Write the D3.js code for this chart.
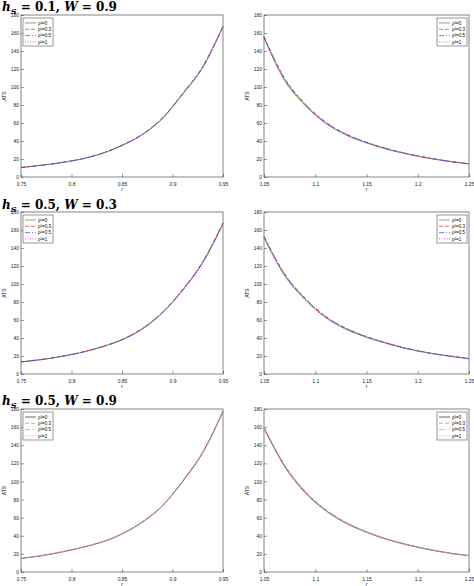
<!DOCTYPE html><html><head><meta charset="utf-8"><script src="https://cdn.jsdelivr.net/npm/d3@7"></script>
<style>body{margin:0;background:#fff}</style></head><body><svg id="c" width="474" height="586"></svg><script>
const xLeft=[0.75,0.77,0.79,0.81,0.83,0.85,0.87,0.89,0.91,0.93,0.95];
const xRight=[1.05,1.07,1.09,1.11,1.13,1.15,1.17,1.19,1.21,1.23,1.25];
const legendLabels=["ρ²=0","ρ²=0.3","ρ²=0.5","ρ²=1"];
const titles=["h_S = 0.1, W = 0.9","h_S = 0.5, W = 0.3","h_S = 0.5, W = 0.9"];
const yTicks=[0,20,40,60,80,100,120,140,160,180];
const r1L=[[10.5,13,16,20,26,35,47,65,92,122,167],[10.6,13.1,16.1,20.2,26.3,35.4,47.5,65.6,92.8,123,168],[10.5,13,16,20.1,26.2,35.2,47.3,65.3,92.4,122.5,167.5],[10.4,12.9,15.9,19.9,25.9,34.8,46.8,64.7,91.6,121.5,166]];
const r1R=[[155,108,80,60,47,38,31,25.5,21,17.5,14.5],[156,110,81.5,61.2,47.9,38.6,31.5,25.9,21.3,17.7,14.7],[155.5,109,80.8,60.6,47.5,38.3,31.2,25.7,21.2,17.6,14.6],[154,107,79.2,59.4,46.5,37.6,30.7,25.3,20.8,17.3,14.3]];
const r2L=[[13.5,16,19.5,24,30,38,50,68,93,124,167],[13.6,16.1,19.7,24.2,30.3,38.4,50.5,68.6,93.8,125,168],[13.5,16,19.6,24.1,30.2,38.2,50.3,68.3,93.4,124.5,167.5],[13.4,15.9,19.4,23.9,29.9,37.8,49.7,67.6,92.5,123.2,166]];
const r2R=[[152,110,83,63,50,41,34,28,23.5,20,17],[153,111.5,84.5,64.2,50.9,41.6,34.5,28.4,23.8,20.2,17.2],[152.5,110.8,83.8,63.6,50.5,41.3,34.2,28.2,23.6,20.1,17.1],[151,109,82.2,62.4,49.5,40.6,33.7,27.8,23.3,19.8,16.8]];
const r3L=[[15,18,22,27,33,42,55,73,100,132,177],[15.1,18.1,22.2,27.2,33.3,42.4,55.5,73.6,100.8,133,178],[15,18,22.1,27.1,33.2,42.2,55.3,73.3,100.4,132.5,177.5],[14.9,17.9,21.9,26.9,32.9,41.8,54.7,72.6,99.4,131.2,176]];
const r3R=[[159,117,88,68,54,44,36,30,25,21,18],[160,118.5,89.5,69.2,54.9,44.6,36.5,30.4,25.3,21.2,18.2],[159.5,117.8,88.8,68.6,54.5,44.3,36.2,30.2,25.1,21.1,18.1],[158,116,87.2,67.4,53.5,43.6,35.7,29.8,24.8,20.8,17.8]];
const colorsA=["#2ca02c","#e03030","#3050e0","#d030d0"];
const colorsB=["#222","#f08020","#80a0f0","#f080c0"];
const dashes=[null,"4,2","5,2,1,2","1,1.5"];
const rows=[{top:15,bottom:177,L:r1L,R:r1R,c:colorsA,ty:11},{top:212,bottom:374,L:r2L,R:r2R,c:colorsA,ty:209},{top:409,bottom:572,L:r3L,R:r3R,c:colorsB,ty:405}];
const svg=d3.select("#c");
rows.forEach((row,ri)=>{
 const t=svg.append("text").attr("x",2).attr("y",row.ty).attr("font-family","DejaVu Serif").attr("font-size",12).attr("font-style","italic").attr("font-weight","bold");
 t.append("tspan").text("h");t.append("tspan").attr("font-size",8).attr("dy",3).text("S");
 const parts=titles[ri].split(", ");
 t.append("tspan").attr("dy",-3).attr("font-style","normal").text(" = "+parts[0].split("= ")[1]+", ");
 t.append("tspan").text("W");t.append("tspan").attr("font-style","normal").text(" = "+parts[1].split("= ")[1]);
 [[xLeft,row.L,21,223,[0.75,0.8,0.85,0.9,0.95],true],[xRight,row.R,264,469,[1.05,1.1,1.15,1.2,1.25],false]].forEach(([xs,ser,x0,x1,xt,leftLeg])=>{
  const x=d3.scaleLinear().domain([xs[0],xs[xs.length-1]]).range([x0,x1]);
  const y=d3.scaleLinear().domain([0,180]).range([row.bottom,row.top]);
  const g=svg.append("g");
  g.append("rect").attr("x",x0).attr("y",row.top).attr("width",x1-x0).attr("height",row.bottom-row.top).attr("fill","none").attr("stroke","#333").attr("stroke-width",0.6);
  const ax=g.append("g").attr("transform",`translate(0,${row.bottom})`).call(d3.axisBottom(x).tickValues(xt).tickSize(-3).tickFormat(d3.format("")));
  const ay=g.append("g").attr("transform",`translate(${x0},0)`).call(d3.axisLeft(y).tickValues(yTicks).tickSize(-3));
  [ax,ay].forEach(a=>{a.select(".domain").remove();a.selectAll("line").attr("stroke","#333").attr("stroke-width",0.5);a.selectAll("text").attr("font-size",5).attr("font-family","Liberation Sans").attr("fill","#222");});
  ax.selectAll("text").attr("dy",6);ay.selectAll("text").attr("dx",1);
  g.append("text").attr("x",x0-15).attr("y",(row.top+row.bottom)/2).attr("transform",`rotate(-90,${x0-15},${(row.top+row.bottom)/2})`).attr("text-anchor","middle").attr("font-size",5).attr("font-family","Liberation Sans").text("ATS");
  g.append("text").attr("x",(x0+x1)/2).attr("y",row.bottom+14).attr("text-anchor","middle").attr("font-size",5).attr("font-family","Liberation Sans").attr("font-style","italic").text("r");
  const line=d3.line().x((d,i)=>x(xs[i])).y(d=>y(d)).curve(d3.curveMonotoneX);
  ser.forEach((s,i)=>g.append("path").attr("d",line(s)).attr("fill","none").attr("stroke",row.c[i]).attr("stroke-width",0.8).attr("stroke-dasharray",dashes[i]));
  const lx=leftLeg?x0+2:x1-32,ly=row.top+3;
  g.append("rect").attr("x",lx).attr("y",ly).attr("width",30).attr("height",28).attr("fill","#fff").attr("stroke","#333").attr("stroke-width",0.5);
  legendLabels.forEach((l,i)=>{const yy=ly+5+i*6.3;
   g.append("line").attr("x1",lx+2).attr("x2",lx+13).attr("y1",yy).attr("y2",yy).attr("stroke",row.c[i]).attr("stroke-width",0.7).attr("stroke-dasharray",dashes[i]);
   g.append("text").attr("x",lx+15).attr("y",yy+1.7).attr("font-size",4.5).attr("font-family","Liberation Sans").text(l);});
 });
});
</script></body></html>
